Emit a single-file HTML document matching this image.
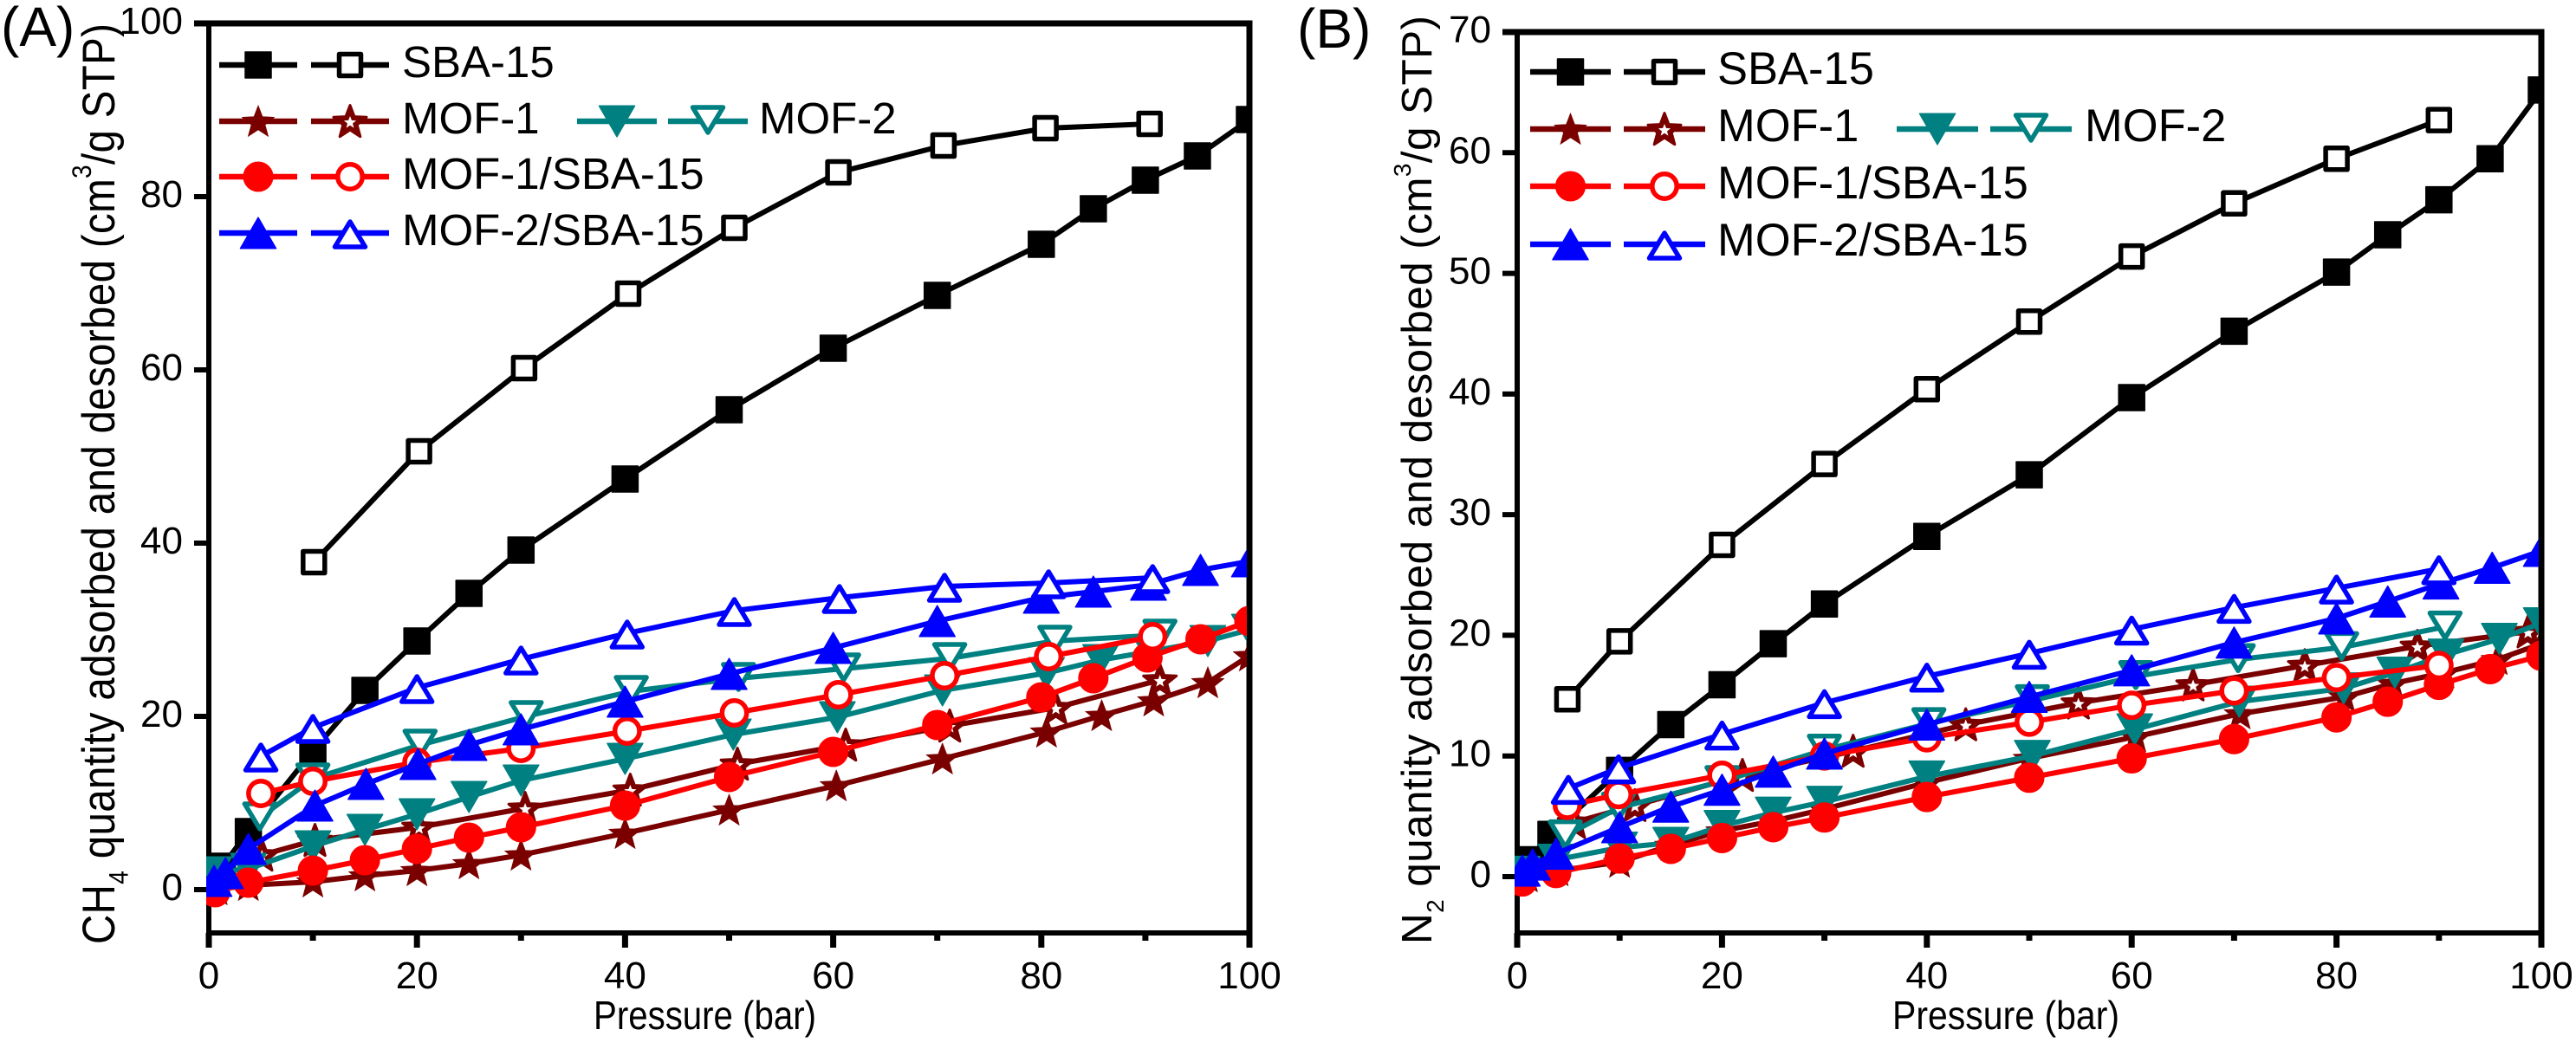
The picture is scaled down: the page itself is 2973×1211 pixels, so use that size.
<!DOCTYPE html>
<html lang="en">
<head>
<meta charset="utf-8">
<title>CH4 and N2 adsorption and desorption isotherms</title>
<style>
html,body{margin:0;padding:0;background:#fff;}
svg{display:block;}
text{font-family:"Liberation Sans",sans-serif;fill:#000;}
</style>
</head>
<body>
<svg id="figure" xmlns="http://www.w3.org/2000/svg" width="2973" height="1211" viewBox="0 0 2973 1211">
  <rect width="2973" height="1211" fill="#fff"/>
  <defs>
    <clipPath id="clip-a"><rect x="238" y="20" width="1201" height="1055"/></clipPath>
    <clipPath id="clip-b"><rect x="1748" y="30" width="1182" height="1045"/></clipPath>
  </defs>

  <g id="panel-a">
    <text x="1" y="53" font-size="64">(A)</text>
    <text transform="translate(132,1090) rotate(-90) scale(1,1.116)" font-size="47.5" textLength="1063" lengthAdjust="spacing">CH<tspan font-size="28" dy="14">4</tspan><tspan dy="-14"> quantity adsorbed and desorbed (cm</tspan><tspan font-size="28" dy="-24">3</tspan><tspan dy="24">/g STP)</tspan></text>
    <text x="685" y="1188" font-size="46" textLength="257" lengthAdjust="spacingAndGlyphs">Pressure (bar)</text>
  </g>

  <g id="panel-b">
    <text x="1497" y="55" font-size="64">(B)</text>
    <text transform="translate(1652,1090) rotate(-90)" font-size="49.5" textLength="1072" lengthAdjust="spacing">N<tspan font-size="28" dy="14">2</tspan><tspan dy="-14"> quantity adsorbed and desorbed (cm</tspan><tspan font-size="28" dy="-24">3</tspan><tspan dy="24">/g STP)</tspan></text>
    <text x="2184" y="1188" font-size="46" textLength="262" lengthAdjust="spacingAndGlyphs">Pressure (bar)</text>
  </g>
</svg>

<script>
/* ---------- tick values ---------- */
const aYTicks = [0, 20, 40, 60, 80, 100];
const bYTicks = [0, 10, 20, 30, 40, 50, 60, 70];
const xMajorTicks = [0, 20, 40, 60, 80, 100];
const xMinorTicks = [10, 30, 50, 70, 90];

/* ---------- panel A: CH4 ---------- */
const aSbaAdsP = [1.3, 3.8, 10, 15, 20, 25, 30, 40, 50, 60, 70, 80, 85, 90, 95, 100];
const aSbaAdsV = [2.7, 6.7, 16, 23, 28.7, 34.2, 39.2, 47.4, 55.4, 62.5, 68.6, 74.5, 78.6, 81.9, 84.7, 88.9];
const aSbaDesP = [10.1, 20.2, 30.3, 40.3, 50.5, 60.5, 70.6, 80.4, 90.4];
const aSbaDesV = [37.8, 50.6, 60.2, 68.8, 76.4, 82.8, 85.9, 87.9, 88.4];
const aMof1AdsP = [0.8, 3.8, 10, 15, 20, 25, 30, 40, 50, 60.3, 70.5, 80.5, 85.8, 90.8, 96, 100];
const aMof1AdsV = [0, 0.5, 0.9, 1.6, 2.2, 3, 4, 6.5, 9.2, 12, 15.1, 18.2, 20.1, 21.8, 23.9, 27];
const aMof1DesP = [5.1, 10.2, 20.2, 30.4, 40.5, 50.8, 61.2, 71.2, 81.4, 91.4];
const aMof1DesV = [4, 5.7, 7.2, 9.4, 11.5, 14.5, 16.7, 18.9, 21, 24.2];
const aMof2AdsP = [0.5, 3.8, 10, 15, 20, 25, 30, 40, 50.4, 60.4, 70.5, 80.5, 85.7, 90.5, 96, 100];
const aMof2AdsV = [2, 2.4, 5, 6.9, 8.7, 10.7, 12.6, 15.1, 17.9, 19.9, 23, 25, 26.5, 27.5, 28.7, 30];
const aMof2DesP = [4.9, 10, 20.3, 30.5, 40.6, 50.9, 61, 71.2, 81.3, 91.4];
const aMof2DesV = [8.3, 12.8, 16.7, 20, 22.9, 24.4, 25.5, 26.7, 28.7, 29.4];
const aHyb1AdsP = [0.6, 3.8, 10, 15, 20, 25, 30, 40, 50, 60, 70, 80, 85, 90.2, 95.3, 100];
const aHyb1AdsV = [-0.3, 0.8, 2.2, 3.4, 4.7, 6, 7.2, 9.7, 13, 15.9, 19, 22.2, 24.4, 26.8, 28.9, 31];
const aHyb1DesP = [5, 10, 20, 30, 40.2, 50.5, 60.5, 70.7, 80.7, 90.7];
const aHyb1DesV = [11.1, 12.5, 14.7, 16.3, 18.3, 20.4, 22.5, 24.7, 26.9, 29.2];
const aHyb2AdsP = [0.5, 1.6, 3.8, 10.2, 15.1, 20.1, 25, 30, 40, 50, 60, 70, 80, 85, 90.3, 95.3, 100];
const aHyb2AdsV = [1, 1.9, 4.7, 9.7, 12.2, 14.5, 16.7, 18.5, 21.7, 24.9, 27.9, 31, 33.7, 34.4, 35.2, 36.9, 37.9];
const aHyb2DesP = [5, 10, 20, 30, 40.2, 50.5, 60.6, 70.7, 80.7, 90.7];
const aHyb2DesV = [15.4, 18.7, 23.3, 26.6, 29.6, 32.2, 33.7, 35, 35.4, 36];

/* ---------- panel B: N2 ---------- */
const bSbaAdsP = [1.3, 3.3, 10, 15, 20, 25, 30, 40, 50, 60, 70, 80, 85, 90, 95, 100];
const bSbaAdsV = [1.4, 3.5, 8.8, 12.6, 15.9, 19.3, 22.6, 28.2, 33.3, 39.7, 45.2, 50.1, 53.2, 56.1, 59.5, 65.2];
const bSbaDesP = [4.9, 10, 20, 30, 40, 50, 60, 70, 80, 90];
const bSbaDesV = [14.7, 19.5, 27.5, 34.2, 40.4, 46, 51.4, 55.8, 59.5, 62.7];
const bMof1AdsP = [1, 4, 10, 15, 20, 25, 30, 40, 50, 60.4, 70.6, 80.8, 85.5, 90.5, 95.7, 100];
const bMof1AdsV = [0, 0.5, 1.2, 2.6, 3.8, 4.6, 5.6, 7.8, 9.8, 11.6, 13.5, 14.9, 16, 16.9, 18, 19.3];
const bMof1DesP = [5.6, 11.5, 22, 32.8, 43.8, 54.8, 66, 76.9, 87.9, 98.7];
const bMof1DesV = [4.5, 5.9, 8.4, 10.4, 12.6, 14.4, 15.9, 17.5, 19.1, 20.3];
const bMof2AdsP = [0.5, 3.8, 10, 15, 20, 25, 30, 40, 50.3, 60.3, 70.5, 80.7, 85.7, 90.7, 95.9, 100];
const bMof2AdsV = [0.4, 1.4, 2.4, 2.8, 4.2, 5.3, 6.2, 8.3, 10, 12.2, 14.5, 15.6, 16.9, 18.4, 19.7, 21];
const bMof2DesP = [4.7, 9.9, 20, 30, 40.2, 50.3, 60.4, 70.4, 80.5, 90.6];
const bMof2DesV = [3.4, 5.7, 7.9, 10.5, 12.7, 14.6, 16.6, 18, 19, 20.7];
const bHyb1AdsP = [0.5, 3.8, 10, 15, 20, 25, 30, 40, 50, 60, 70, 80, 85, 90, 95, 100];
const bHyb1AdsV = [-0.4, 0.3, 1.5, 2.3, 3.2, 4.1, 4.9, 6.6, 8.2, 9.8, 11.4, 13.2, 14.5, 15.9, 17.2, 18.3];
const bHyb1DesP = [4.9, 9.9, 20, 30, 40, 50, 60, 70, 80, 90];
const bHyb1DesV = [5.9, 6.8, 8.4, 10, 11.5, 12.8, 14.2, 15.4, 16.5, 17.5];
const bHyb2AdsP = [0.5, 1.5, 3.8, 10, 15, 20, 25, 30, 40, 50, 60, 70, 80, 85, 90.2, 95.2, 100];
const bHyb2AdsV = [0.5, 1, 1.9, 4.1, 5.8, 7.2, 8.7, 10.2, 12.6, 14.9, 17.1, 19.4, 21.4, 22.8, 24.3, 25.6, 27];
const bHyb2DesP = [5, 9.9, 20, 30, 40, 50, 60, 70, 80, 90];
const bHyb2DesV = [7.3, 9, 11.8, 14.4, 16.6, 18.5, 20.5, 22.3, 23.9, 25.5];

/* ---------- colours ---------- */
const BLACK = '#000000', WINE = '#7a0000', TEAL = '#008080', RED = '#ff0000', BLUE = '#0000ff';
const NS = 'http://www.w3.org/2000/svg';

function make(tag, attrs) {
  const node = document.createElementNS(NS, tag);
  for (const key in attrs) node.setAttribute(key, attrs[key]);
  return node;
}

function linearScale(d0, d1, r0, r1) {
  return function (v) { return r0 + (v - d0) * (r1 - r0) / (d1 - d0); };
}

function starPoints(cx, cy, outer, inner) {
  const pts = [];
  for (let i = 0; i < 10; i++) {
    const r = i % 2 === 0 ? outer : inner;
    const a = -Math.PI / 2 + i * Math.PI / 5;
    pts.push((cx + r * Math.cos(a)).toFixed(1) + ',' + (cy + r * Math.sin(a)).toFixed(1));
  }
  return pts.join(' ');
}

function drawMarker(parent, shape, open, cx, cy, color) {
  const g = make('g', {});
  
  
  const paint = open
    ? { fill: '#fff', stroke: color, 'stroke-width': 5.5, 'stroke-linejoin': 'round' }
    : { fill: color, stroke: color, 'stroke-width': 1.5, 'stroke-linejoin': 'round' };
  if (shape === 'square') {
    const half = open ? 12.5 : 15;
    g.appendChild(make('rect', Object.assign({ x: cx - half, y: cy - half, width: half * 2, height: half * 2 }, paint)));
  } else if (shape === 'circle') {
    g.appendChild(make('circle', Object.assign({ cx: cx, cy: cy, r: open ? 14.2 : 16.8 }, paint)));
  } else if (shape === 'up') {
    const w = open ? 17.5 : 20.5, t = open ? 13 : 17.8, b = open ? 16 : 17.8;
    g.appendChild(make('polygon', Object.assign({ points: cx + ',' + (cy - t) + ' ' + (cx + w) + ',' + (cy + b) + ' ' + (cx - w) + ',' + (cy + b) }, paint)));
  } else if (shape === 'down') {
    const w = open ? 17.5 : 20.5, t = open ? 13 : 17.8, b = open ? 16 : 17.8;
    g.appendChild(make('polygon', Object.assign({ points: cx + ',' + (cy + t) + ' ' + (cx + w) + ',' + (cy - b) + ' ' + (cx - w) + ',' + (cy - b) }, paint)));
  } else if (shape === 'star') {
    g.appendChild(make('polygon', { points: starPoints(cx, cy + 1.5, 20, 8.5), fill: color, stroke: color, 'stroke-width': open ? 3 : 0.5, 'stroke-linejoin': 'round' }));
    if (open) {
      g.appendChild(make('polygon', { points: starPoints(cx, cy + 1.5, 7.5, 3.2), fill: '#fff' }));
    }
  }
  parent.appendChild(g);
}

function drawSeries(parent, name, xs, ys, xScale, yScale, color, shape, open) {
  const g = make('g', {});
  
  
  const pts = xs.map(function (p, i) { return xScale(p).toFixed(1) + ',' + yScale(ys[i]).toFixed(1); }).join(' ');
  const line = make('polyline', { points: pts, fill: 'none', stroke: color, 'stroke-width': 6, 'stroke-linejoin': 'round' });
  
  
  g.appendChild(line);
  xs.forEach(function (p, i) { drawMarker(g, shape, open, xScale(p), yScale(ys[i]), color); });
  parent.appendChild(g);
}

function drawFrame(parent, prefix, box, xScale, yScale, yTicks) {
  const g = make('g', { stroke: '#000', fill: 'none' });
  
  
  const seg = function (x1, y1, x2, y2, w) { g.appendChild(make('line', { x1: x1, y1: y1, x2: x2, y2: y2, 'stroke-width': w })); };
  seg(box.left, box.top - 3, box.left, 1094, 6);
  seg(box.left - 17, box.top, box.right + 3.5, box.top, 7);
  seg(box.right, box.top, box.right, box.bottom, 7);
  seg(box.left, box.bottom, box.right + 3.5, box.bottom, 6);
  yTicks.forEach(function (v) { seg(box.left - 17, yScale(v), box.left, yScale(v), 6); });
  xMajorTicks.forEach(function (v) { seg(xScale(v), box.bottom, xScale(v), 1094, 7); });
  xMinorTicks.forEach(function (v) { seg(xScale(v), box.bottom, xScale(v), 1086, 7); });
  parent.appendChild(g);

  yTicks.forEach(function (v) {
    const t = make('text', { x: box.left - 30, y: yScale(v) + 12, 'font-size': 44, 'text-anchor': 'end' });
    
    
    t.textContent = String(v);
    parent.appendChild(t);
  });
  xMajorTicks.forEach(function (v) {
    const t = make('text', { x: xScale(v), y: 1141, 'font-size': 44, 'text-anchor': 'middle' });
    
    
    t.textContent = String(v);
    parent.appendChild(t);
  });
}

function drawLegendEntry(parent, label, color, shape, rowY, baseline, x1, x2, x3, x4, textX, fontSize) {
  const g = make('g', {});
  
  
  g.appendChild(make('line', { x1: x1, y1: rowY, x2: x2, y2: rowY, stroke: color, 'stroke-width': 6.5 }));
  g.appendChild(make('line', { x1: x3, y1: rowY, x2: x4, y2: rowY, stroke: color, 'stroke-width': 6.5 }));
  drawMarker(g, shape, false, (x1 + x2) / 2, rowY, color);
  drawMarker(g, shape, true, (x3 + x4) / 2, rowY, color);
  const t = make('text', { x: textX, y: baseline, 'font-size': fontSize });
  t.textContent = label;
  g.appendChild(t);
  parent.appendChild(g);
}

function drawPlot(parent, prefix, clipId, xScale, yScale, sets) {
  const g = make('g', { 'clip-path': 'url(#' + clipId + ')' });
  
  
  sets.forEach(function (s) {
    drawSeries(g, prefix + '-' + s.id + '-adsorption', s.adsP, s.adsV, xScale, yScale, s.color, s.shape, false);
    drawSeries(g, prefix + '-' + s.id + '-desorption', s.desP, s.desV, xScale, yScale, s.color, s.shape, true);
  });
  parent.appendChild(g);
}

/* ---------- panel A ---------- */
const panelA = document.getElementById('panel-a');
const aBox = { left: 241, right: 1442, top: 27, bottom: 1077 };
const aX = linearScale(0, 100, 241, 1442);
const aY = linearScale(0, 100, 1027, 27);
drawFrame(panelA, 'panel-a', aBox, aX, aY, aYTicks);
drawPlot(panelA, 'panel-a', 'clip-a', aX, aY, [
  { id: 'sba-15', color: BLACK, shape: 'square', adsP: aSbaAdsP, adsV: aSbaAdsV, desP: aSbaDesP, desV: aSbaDesV },
  { id: 'mof-1', color: WINE, shape: 'star', adsP: aMof1AdsP, adsV: aMof1AdsV, desP: aMof1DesP, desV: aMof1DesV },
  { id: 'mof-2', color: TEAL, shape: 'down', adsP: aMof2AdsP, adsV: aMof2AdsV, desP: aMof2DesP, desV: aMof2DesV },
  { id: 'mof-1-sba-15', color: RED, shape: 'circle', adsP: aHyb1AdsP, adsV: aHyb1AdsV, desP: aHyb1DesP, desV: aHyb1DesV },
  { id: 'mof-2-sba-15', color: BLUE, shape: 'up', adsP: aHyb2AdsP, adsV: aHyb2AdsV, desP: aHyb2DesP, desV: aHyb2DesV }
]);
const legendA = make('g', {});


panelA.appendChild(legendA);
drawLegendEntry(legendA, 'SBA-15', BLACK, 'square', 75, 89, 253, 343, 359, 449, 464, 51);
drawLegendEntry(legendA, 'MOF-1', WINE, 'star', 140, 154, 253, 343, 359, 449, 464, 51);
drawLegendEntry(legendA, 'MOF-2', TEAL, 'down', 140, 154, 666, 758, 771, 863, 876, 51);
drawLegendEntry(legendA, 'MOF-1/SBA-15', RED, 'circle', 204, 218, 253, 343, 359, 449, 464, 51);
drawLegendEntry(legendA, 'MOF-2/SBA-15', BLUE, 'up', 269, 283, 253, 343, 359, 449, 464, 51);

/* ---------- panel B ---------- */
const panelB = document.getElementById('panel-b');
const bBox = { left: 1751, right: 2933, top: 37, bottom: 1077 };
const bX = linearScale(0, 100, 1751, 2933);
const bY = linearScale(0, 70, 1012, 37);
drawFrame(panelB, 'panel-b', bBox, bX, bY, bYTicks);
drawPlot(panelB, 'panel-b', 'clip-b', bX, bY, [
  { id: 'sba-15', color: BLACK, shape: 'square', adsP: bSbaAdsP, adsV: bSbaAdsV, desP: bSbaDesP, desV: bSbaDesV },
  { id: 'mof-1', color: WINE, shape: 'star', adsP: bMof1AdsP, adsV: bMof1AdsV, desP: bMof1DesP, desV: bMof1DesV },
  { id: 'mof-2', color: TEAL, shape: 'down', adsP: bMof2AdsP, adsV: bMof2AdsV, desP: bMof2DesP, desV: bMof2DesV },
  { id: 'mof-1-sba-15', color: RED, shape: 'circle', adsP: bHyb1AdsP, adsV: bHyb1AdsV, desP: bHyb1DesP, desV: bHyb1DesV },
  { id: 'mof-2-sba-15', color: BLUE, shape: 'up', adsP: bHyb2AdsP, adsV: bHyb2AdsV, desP: bHyb2DesP, desV: bHyb2DesV }
]);
const legendB = make('g', {});


panelB.appendChild(legendB);
drawLegendEntry(legendB, 'SBA-15', BLACK, 'square', 83, 97, 1766, 1859, 1874, 1968, 1982, 52.5);
drawLegendEntry(legendB, 'MOF-1', WINE, 'star', 149, 163, 1766, 1859, 1874, 1968, 1982, 52.5);
drawLegendEntry(legendB, 'MOF-2', TEAL, 'down', 149, 163, 2189, 2283, 2297, 2391, 2406, 52.5);
drawLegendEntry(legendB, 'MOF-1/SBA-15', RED, 'circle', 215, 229, 1766, 1859, 1874, 1968, 1982, 52.5);
drawLegendEntry(legendB, 'MOF-2/SBA-15', BLUE, 'up', 282, 295, 1766, 1859, 1874, 1968, 1982, 52.5);
</script>
</body>
</html>
